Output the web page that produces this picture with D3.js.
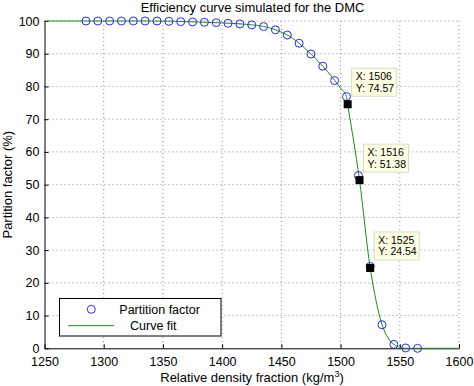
<!DOCTYPE html>
<html lang="en">
<head>
<meta charset="utf-8">
<script src="https://d3js.org/d3.v7.min.js"></script>
<style>
  body { margin: 0; background: #fff; }
  text { font-family: "Liberation Sans", Arial, Helvetica, sans-serif; fill: #000; }
</style>
</head>
<body>
<svg id="chart"></svg>
<script>
// measured points (circles)
const pointX = [1285, 1295, 1305, 1315, 1325, 1335, 1345, 1355, 1365, 1375,
                1385, 1395, 1405, 1415, 1425, 1435, 1445, 1455, 1465, 1475,
                1485, 1495, 1505, 1515, 1525, 1535, 1545, 1555, 1565];
const pointY = [100, 100, 100, 100, 100, 100, 100, 99.9, 99.8, 99.7,
                99.6, 99.5, 99.3, 99.1, 98.8, 98.3, 97.3, 95.7, 93.2, 89.9,
                86.2, 81.8, 76.9, 52.8, 25.0, 7.2, 1.2, 0.1, 0];

// fitted curve
const fitX = [1250, 1300, 1340, 1360, 1380, 1400, 1420, 1440, 1450, 1460, 1470,
              1480, 1490, 1500, 1505, 1506, 1516, 1525, 1530, 1535, 1540, 1545,
              1550, 1555, 1600];
const fitY = [100, 100, 100, 99.9, 99.7, 99.4, 99.0, 97.9, 96.6, 94.6, 91.6,
              88.1, 84.1, 79.5, 76.9, 74.57, 51.38, 24.54, 14.5, 7.2, 3.2, 1.2,
              0.3, 0, 0];

// data tips
const tipX = [1506, 1516, 1525];
const tipY = [74.57, 51.38, 24.54];

const xTicks = [1250, 1300, 1350, 1400, 1450, 1500, 1550, 1600];
const yTicks = [0, 10, 20, 30, 40, 50, 60, 70, 80, 90, 100];

const width = 474, height = 386;
const plotL = 44.5, plotR = 459, plotT = 21, plotB = 348.3;

const svg = d3.select('#chart').attr('width', width).attr('height', height);

const x = d3.scaleLinear().domain([1250, 1600]).range([plotL, plotR]);
const y = d3.scaleLinear().domain([0, 100]).range([plotB, plotT]);

// grid
const grid = svg.append('g')
  .attr('stroke', '#8a8a8a')
  .attr('stroke-width', 1)
  .attr('stroke-dasharray', '1,3');
grid.selectAll('.gx').data(xTicks.slice(1)).enter().append('line')
  .attr('x1', d => x(d)).attr('x2', d => x(d))
  .attr('y1', plotT).attr('y2', plotB);
grid.selectAll('.gy').data(yTicks.slice(1)).enter().append('line')
  .attr('y1', d => y(d)).attr('y2', d => y(d))
  .attr('x1', plotL).attr('x2', plotR);

// axes
const xAxis = svg.append('g')
  .attr('transform', `translate(0,${plotB})`)
  .call(d3.axisBottom(x).tickValues(xTicks).tickFormat(d3.format('d'))
    .tickSizeInner(-4).tickSizeOuter(0).tickPadding(6));
const yAxis = svg.append('g')
  .attr('transform', `translate(${plotL},0)`)
  .call(d3.axisLeft(y).tickValues(yTicks).tickFormat(d3.format('d'))
    .tickSizeInner(-4).tickSizeOuter(0).tickPadding(5));
[xAxis, yAxis].forEach(a => {
  a.selectAll('text').style('font-size', '12.5px')
    .style('font-family', '"Liberation Sans", Arial, sans-serif');
  a.select('.domain').attr('stroke', '#000');
});
xAxis.selectAll('text').attr('dy', '0.9em');

// fit curve
const line = d3.line()
  .x(d => x(d[0])).y(d => y(d[1]))
  .curve(d3.curveMonotoneX);
svg.append('path')
  .datum(d3.zip(fitX, fitY))
  .attr('d', line)
  .attr('fill', 'none')
  .attr('stroke', '#1f8a1f')
  .attr('stroke-width', 1);

// points
svg.append('g').selectAll('circle')
  .data(d3.zip(pointX, pointY)).enter().append('circle')
  .attr('cx', d => x(d[0])).attr('cy', d => y(d[1]))
  .attr('r', 4)
  .attr('fill', 'none')
  .attr('stroke', '#2a2ae0')
  .attr('stroke-width', 1);

// data tips
const tips = svg.append('g').selectAll('g')
  .data(d3.zip(tipX, tipY)).enter().append('g')
  .attr('transform', d => `translate(${x(d[0])},${y(d[1])})`);
tips.append('rect')
  .attr('x', 4).attr('y', -36)
  .attr('width', 45).attr('height', 28)
  .attr('fill', '#ffffe4')
  .attr('stroke', '#d8d8c8');
tips.append('text')
  .attr('x', 8).attr('y', -24)
  .style('font-size', '10.5px')
  .text(d => 'X: ' + d[0]);
tips.append('text')
  .attr('x', 8).attr('y', -12.5)
  .style('font-size', '10.5px')
  .text(d => 'Y: ' + d[1].toFixed(2));
tips.append('rect')
  .attr('x', -4).attr('y', -4)
  .attr('width', 8).attr('height', 8)
  .attr('fill', '#000');

// legend
const lg = svg.append('g');
lg.append('rect')
  .attr('x', 59.5).attr('y', 298.5)
  .attr('width', 161.5).attr('height', 37.5)
  .attr('fill', '#fff').attr('stroke', '#000');
lg.append('circle')
  .attr('cx', 91.3).attr('cy', 309.3).attr('r', 4)
  .attr('fill', 'none').attr('stroke', '#2a2ae0');
lg.append('line')
  .attr('x1', 68.3).attr('x2', 114.3)
  .attr('y1', 325.7).attr('y2', 325.7)
  .attr('stroke', '#1f8a1f');
lg.append('text').attr('x', 119.3).attr('y', 313.5)
  .style('font-size', '12.5px').text('Partition factor');
lg.append('text').attr('x', 130).attr('y', 329.5)
  .style('font-size', '12.5px').text('Curve fit');

// titles
svg.append('text')
  .attr('x', 252.5).attr('y', 12)
  .attr('text-anchor', 'middle')
  .style('font-size', '13px')
  .text('Efficiency curve simulated for the DMC');

const xl = svg.append('text')
  .attr('x', 252).attr('y', 381.5)
  .attr('text-anchor', 'middle')
  .style('font-size', '13px');
xl.append('tspan').text('Relative density fraction (kg/m');
xl.append('tspan').attr('dy', -5).style('font-size', '9px').text('3');
xl.append('tspan').attr('dy', 5).text(')');

svg.append('text')
  .attr('transform', 'translate(12,184.7) rotate(-90)')
  .attr('text-anchor', 'middle')
  .style('font-size', '13px')
  .text('Partition factor (%)');
</script>
</body>
</html>
